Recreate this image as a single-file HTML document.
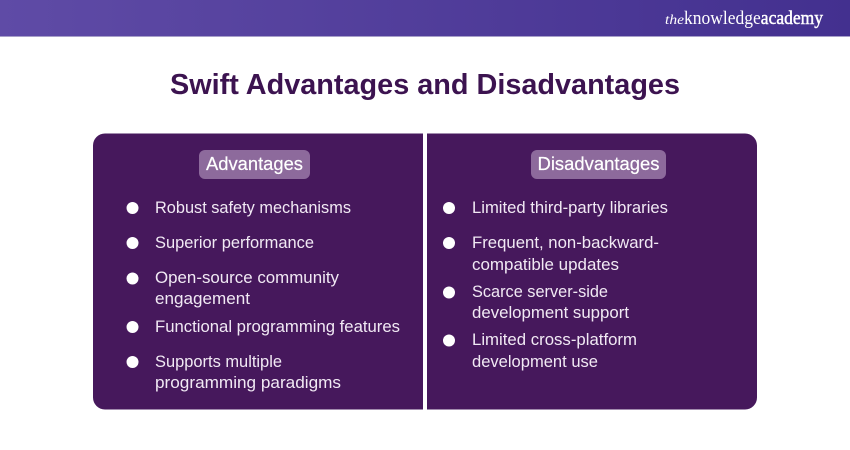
<!DOCTYPE html>
<html><head><meta charset="utf-8"><style>
html,body{margin:0;padding:0;background:#fff}
svg{display:block}
.t{font-family:"Liberation Sans",sans-serif;font-size:16.5px;fill:#f1e9f4}
.h{font-family:"Liberation Sans",sans-serif;font-size:18px;fill:#fff;stroke:#fff;stroke-width:.2}
.l{font-family:"Liberation Serif",serif;fill:#fff}
</style></head><body>
<svg width="850" height="450" viewBox="0 0 850 450" xmlns="http://www.w3.org/2000/svg">
<defs><linearGradient id="g" x1="0" x2="1" y1="0" y2="0"><stop offset="0" stop-color="#5f4ba6"/><stop offset="1" stop-color="#43308f"/></linearGradient></defs>
<rect width="850" height="450" fill="#fff"/>
<rect width="850" height="36" fill="url(#g)"/>
<rect y="36" width="850" height="1" fill="#a79fc9"/>
<text class="l" x="665" y="24" font-size="14" font-style="italic" textLength="19" lengthAdjust="spacingAndGlyphs">the</text>
<text class="l" x="684" y="24" font-size="18.500" textLength="139" lengthAdjust="spacingAndGlyphs">knowledge<tspan stroke="#fff" stroke-width=".45">academy</tspan></text>
<text x="170" y="94" font-family="'Liberation Sans',sans-serif" font-weight="bold" font-size="29" fill="#3c1350" textLength="510" lengthAdjust="spacingAndGlyphs">Swift Advantages and Disadvantages</text>
<rect x="93" y="133.500" width="664" height="276" rx="12" fill="#46185c"/>
<rect x="423" y="133" width="4" height="277" fill="#fff"/>
<rect x="199" y="150" width="111" height="29" rx="6" fill="#8d6a9c"/>
<rect x="531" y="150" width="135" height="29" rx="6" fill="#8d6a9c"/>
<text class="h" x="206" y="170" textLength="97" lengthAdjust="spacingAndGlyphs">Advantages</text>
<text class="h" x="537.500" y="170" textLength="122" lengthAdjust="spacingAndGlyphs">Disadvantages</text>
<g fill="#fff">
<circle cx="132.500" cy="208" r="6"/><circle cx="132.500" cy="243" r="6"/><circle cx="132.500" cy="278.500" r="6"/><circle cx="132.500" cy="327" r="6"/><circle cx="132.500" cy="362" r="6"/>
<circle cx="449" cy="208" r="6"/><circle cx="449" cy="243" r="6"/><circle cx="449" cy="292.500" r="6"/><circle cx="449" cy="340.500" r="6"/>
</g>
<g class="t">
<text class="t" x="155" y="213" textLength="196" lengthAdjust="spacingAndGlyphs">Robust safety mechanisms</text>
<text class="t" x="155" y="248" textLength="159" lengthAdjust="spacingAndGlyphs">Superior performance</text>
<text class="t" x="155" y="283" textLength="184" lengthAdjust="spacingAndGlyphs">Open-source community</text>
<text class="t" x="155" y="304" textLength="95" lengthAdjust="spacingAndGlyphs">engagement</text>
<text class="t" x="155" y="332" textLength="245" lengthAdjust="spacingAndGlyphs">Functional programming features</text>
<text class="t" x="155" y="367" textLength="127" lengthAdjust="spacingAndGlyphs">Supports multiple</text>
<text class="t" x="155" y="388" textLength="186" lengthAdjust="spacingAndGlyphs">programming paradigms</text>
<text class="t" x="472" y="213" textLength="196" lengthAdjust="spacingAndGlyphs">Limited third-party libraries</text>
<text class="t" x="472" y="248" textLength="187" lengthAdjust="spacingAndGlyphs">Frequent, non-backward-</text>
<text class="t" x="472" y="270" textLength="147" lengthAdjust="spacingAndGlyphs">compatible updates</text>
<text class="t" x="472" y="297" textLength="136" lengthAdjust="spacingAndGlyphs">Scarce server-side</text>
<text class="t" x="472" y="318" textLength="157" lengthAdjust="spacingAndGlyphs">development support</text>
<text class="t" x="472" y="345" textLength="165" lengthAdjust="spacingAndGlyphs">Limited cross-platform</text>
<text class="t" x="472" y="367" textLength="126" lengthAdjust="spacingAndGlyphs">development use</text>
</g>
</svg>
</body></html>
